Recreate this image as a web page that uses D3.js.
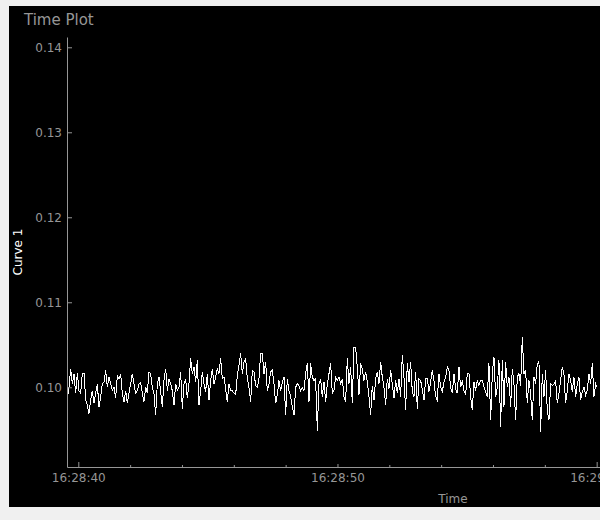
<!DOCTYPE html>
<html lang="en">
<head>
    <meta charset="UTF-8">
    <title>Time Plot</title>
    <script src="https://d3js.org/d3.v7.min.js"></script>
    <style>
        body { margin: 0; background: #f0f0f0; }
        svg { display: block; }
        text { font-family: "DejaVu Sans", sans-serif; }
        .axis path, .axis line { stroke: #969696; }
        .axis text { fill: #969696; font-size: 12px; }
    </style>
</head>
<body>
<div id="chart"></div>
<script>

    // Sampling of the recorded curve (seconds after 16:28:00)
    const startSecond = 39.577;
    const sampleInterval = 0.0643;

    // Curve 1 readings
    const curve1 = [
        0.0987, 0.1000, 0.1021, 0.1004, 0.1016, 0.0993, 0.1017, 0.0996, 0.0993, 0.1016,
        0.1017, 0.0985, 0.0979, 0.0969, 0.0985, 0.0996, 0.0981, 0.0993, 0.1004, 0.0977,
        0.0989, 0.1004, 0.1006, 0.1020, 0.1000, 0.1012, 0.1004, 0.0996, 0.1000, 0.0987,
        0.1014, 0.1010, 0.1016, 0.0993, 0.0983, 0.0996, 0.0981, 0.0993, 0.1004, 0.1016,
        0.1004, 0.0993, 0.0996, 0.1004, 0.1006, 0.0993, 0.0983, 0.1000, 0.0993, 0.1018,
        0.1016, 0.1000, 0.0993, 0.0967, 0.1004, 0.1012, 0.0995, 0.0977, 0.1008, 0.1022,
        0.0996, 0.1010, 0.1004, 0.0996, 0.0979, 0.1004, 0.0996, 0.1000, 0.1018, 0.0975,
        0.1004, 0.1010, 0.0987, 0.1004, 0.1034, 0.1016, 0.1024, 0.1006, 0.1032,

        0.0979, 0.0996, 0.1018, 0.1004, 0.0995, 0.1016, 0.0985, 0.1008, 0.1022, 0.1004,
        0.1012, 0.1022, 0.1016, 0.1034, 0.1010, 0.1012, 0.0998, 0.0983, 0.1004, 0.0996,
        0.0996, 0.0993, 0.0991, 0.1014, 0.1026, 0.1040, 0.1016, 0.1030, 0.1034, 0.1010,
        0.1000, 0.0983, 0.1020, 0.1018, 0.1002, 0.1000, 0.1010, 0.1040, 0.1040, 0.1016,
        0.1030, 0.0996, 0.1004, 0.1018, 0.1020, 0.1004, 0.0981, 0.0991, 0.1008, 0.0996,
        0.1006, 0.1012, 0.0967, 0.1010, 0.0996, 0.0989, 0.0977, 0.0967, 0.1000, 0.1004,
        0.1002, 0.0996, 0.1000, 0.0996, 0.1016, 0.1028, 0.0983, 0.1028, 0.1012, 0.1008,
        0.1010, 0.0949, 0.1004, 0.1010, 0.0989, 0.1006, 0.0983, 0.1004, 0.1016, 0.1028,
        0.0993,

        0.0996, 0.1012, 0.1008, 0.1012, 0.1004, 0.1010, 0.0989, 0.0983, 0.1034, 0.1004,
        0.1024, 0.0981, 0.1047, 0.1047, 0.1024, 0.0991, 0.1028, 0.1022, 0.1008, 0.1018,
        0.1006, 0.0989, 0.0967, 0.1002, 0.0985, 0.1010, 0.1018, 0.1004, 0.1030, 0.1012,
        0.1000, 0.0979, 0.1010, 0.0998, 0.1020, 0.1004, 0.0987, 0.1008, 0.0993, 0.1010,
        0.0989, 0.1038, 0.1012, 0.0973, 0.1028, 0.1006, 0.1030, 0.0995, 0.0989, 0.1018,
        0.0975, 0.1010, 0.1008, 0.0998, 0.0985, 0.1010, 0.1010, 0.0995, 0.1006, 0.1020,
        0.1008, 0.0989, 0.0985, 0.1016, 0.1000, 0.0995, 0.1006, 0.1012, 0.1024, 0.1020,
        0.1000, 0.0993, 0.1016, 0.0998, 0.0993, 0.1024, 0.1000, 0.1008, 0.0996, 0.0991,
        0.1016,

        0.1016, 0.0989, 0.0973, 0.1006, 0.0996, 0.1008, 0.1002, 0.1008, 0.1008, 0.1000,
        0.0995, 0.0989, 0.1028, 0.0961, 0.1016, 0.1036, 0.0989, 0.1000, 0.1032, 0.0953,
        0.1032, 0.0977, 0.1030, 0.1000, 0.1012, 0.0977, 0.1022, 0.1004, 0.0961, 0.1012,
        0.1016, 0.1002, 0.1059, 0.1016, 0.1020, 0.0981, 0.1008, 0.0993, 0.0961, 0.1012,
        0.1004, 0.1028, 0.1030, 0.0947, 0.1016, 0.0989, 0.1020, 0.0973, 0.0961, 0.1004,
        0.1002, 0.1004, 0.1008, 0.0981, 0.0993, 0.1008, 0.1024, 0.1016, 0.0981, 0.0996,
        0.1016, 0.1008, 0.0995, 0.1012, 0.0989, 0.1004, 0.1012, 0.0985, 0.0995, 0.1000,
        0.0991, 0.0996, 0.1016, 0.1004, 0.1028, 0.0989, 0.1004, 0.1000
    ];

    const yTicks = [0.10, 0.11, 0.12, 0.13, 0.14];
    const xTickSeconds = [40, 42, 44, 46, 48, 50, 52, 54, 56, 58, 60];
    const xLabelSeconds = [40, 50, 60];

    // Layout
    const svgWidth = 600, svgHeight = 520;
    const frame = { left: 9, top: 6, width: 840, height: 501 };
    const plot = { left: 67, top: 37, right: 839, bottom: 467 };

    const at = s => new Date(2024, 0, 1, 16, 28, 0, 0).getTime() + s * 1000;

    const data = curve1.map((v, i) => ({ t: new Date(at(startSecond + i * sampleInterval)), v: v }));

    const svg = d3.select("#chart")
        .append("svg")
        .attr("width", svgWidth)
        .attr("height", svgHeight);

    svg.append("rect")
        .attr("x", frame.left)
        .attr("y", frame.top)
        .attr("width", frame.width)
        .attr("height", frame.height)
        .attr("fill", "#000");

    const x = d3.scaleTime()
        .domain([new Date(at(39.564)), new Date(at(69.35))])
        .range([plot.left, plot.right]);

    const y = d3.scaleLinear()
        .domain([0.09062, 0.14121])
        .range([plot.bottom, plot.top]);

    svg.append("defs").append("clipPath")
        .attr("id", "plot-clip")
        .append("rect")
        .attr("x", plot.left)
        .attr("y", plot.top)
        .attr("width", plot.right - plot.left)
        .attr("height", plot.bottom - plot.top);

    // Curve
    svg.append("path")
        .datum(data)
        .attr("clip-path", "url(#plot-clip)")
        .attr("fill", "none")
        .attr("stroke", "#fff")
        .attr("stroke-width", 1)
        .attr("shape-rendering", "crispEdges")
        .attr("d", d3.line()
            .x(d => x(d.t))
            .y(d => y(d.v)));

    // Y axis
    svg.append("g")
        .attr("class", "axis")
        .attr("transform", `translate(${plot.left},0)`)
        .call(d3.axisLeft(y)
            .tickValues(yTicks)
            .tickFormat(d3.format(".2f"))
            .tickSizeInner(-5)
            .tickSizeOuter(0)
            .tickPadding(5));

    // X axis
    const fmt = d3.timeFormat("%H:%M:%S");
    const xAxis = svg.append("g")
        .attr("class", "axis")
        .attr("transform", `translate(0,${plot.bottom})`)
        .call(d3.axisBottom(x)
            .tickValues(xTickSeconds.map(s => new Date(at(s))))
            .tickFormat((d, i) => xLabelSeconds.includes(xTickSeconds[i]) ? fmt(d) : "")
            .tickSizeInner(-2)
            .tickSizeOuter(0)
            .tickPadding(6));

    xAxis.selectAll(".tick line")
        .attr("y2", (d, i) => {
            const s = xTickSeconds[i];
            if (s === 40 || s === 60) return -5;
            if (s === 50) return -3;
            return -2;
        });

    // Labels
    svg.append("text")
        .attr("x", 24)
        .attr("y", 25)
        .attr("fill", "#969696")
        .style("font-size", "15px")
        .text("Time Plot");

    svg.append("text")
        .attr("x", 453)
        .attr("y", 503)
        .attr("text-anchor", "middle")
        .attr("fill", "#969696")
        .style("font-size", "12px")
        .text("Time");

    svg.append("text")
        .attr("transform", `translate(22,${(plot.top + plot.bottom) / 2}) rotate(-90)`)
        .attr("text-anchor", "middle")
        .attr("fill", "#fff")
        .style("font-size", "12px")
        .text("Curve 1");

</script>
</body>
</html>
